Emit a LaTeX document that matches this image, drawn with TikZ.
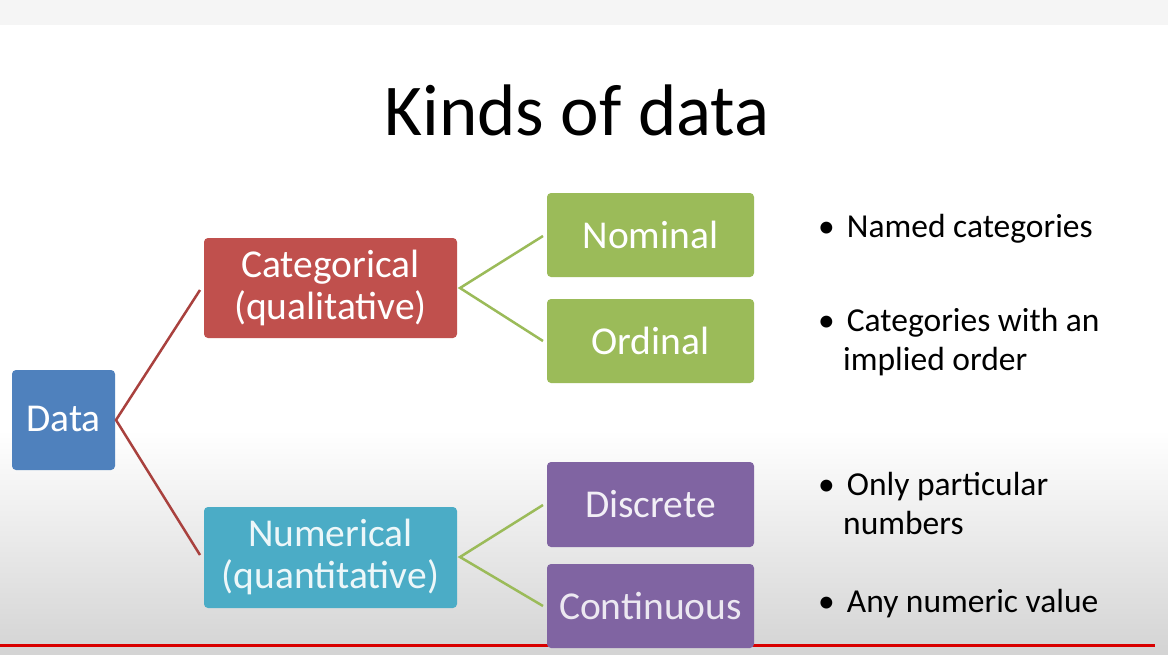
\documentclass[tikz,border=0pt]{standalone}
\usepackage{fontspec}
\setmainfont{Carlito}
\definecolor{cblue}{HTML}{4F81BD}
\definecolor{cred}{HTML}{C0504D}
\definecolor{cteal}{HTML}{4BACC6}
\definecolor{cgreen}{HTML}{9BBB59}
\definecolor{cpurple}{HTML}{8064A2}
\definecolor{cline}{HTML}{A9413E}
\definecolor{gline}{HTML}{9BBB59}
\begin{document}
\begin{tikzpicture}[x=1pt,y=-1pt,
  bx/.style={rounded corners=4pt,text=white,font=\fontsize{39.5}{42}\selectfont,align=center,inner sep=0pt},
  bul/.style={anchor=west,font=\fontsize{33.5}{39}\selectfont,align=left,inner sep=0pt}]
\useasboundingbox (0,0) rectangle (1168,654);
\fill[white] (0,0) rectangle (1168,654);
\fill[gray!8] (0,0) rectangle (1168,25);
\shade[top color=white,bottom color=black!17] (0,430) rectangle (1168,654);
\draw[red!85!black,line width=3pt] (0,645) -- (1155,645);
\node[font=\fontsize{73}{73}\selectfont] (title) at (577,110) {Kinds of data};
\fill[cblue,rounded corners=4pt] (12,370) rectangle (115,470);
\node[bx] (data) at (63.5,419) {Data};
\coordinate (dataR) at (116,420);
\fill[cred,rounded corners=4pt] (204,238) rectangle (457,338);
\node[bx] (cat) at (330.5,288) {Categorical\\(qualitative)};
\coordinate (catL) at (200,290); \coordinate (catR) at (460,288);
\fill[cteal,rounded corners=4pt] (204,507) rectangle (457,608);
\node[bx,text=white!90!cteal] (num) at (330.5,557) {Numerical\\(quantitative)};
\coordinate (numL) at (200,555); \coordinate (numR) at (460,557);
\fill[cgreen,rounded corners=4pt] (547,193) rectangle (754,277);
\node[bx] (nom) at (650.5,235) {Nominal};
\fill[cgreen,rounded corners=4pt] (547,299) rectangle (754,383);
\node[bx] (ord) at (650.5,341) {Ordinal};
\fill[cpurple,rounded corners=4pt] (547,462) rectangle (754,547);
\node[bx,text=white!90!cpurple] (dis) at (650.5,504) {Discrete};
\fill[cpurple,rounded corners=4pt] (547,564) rectangle (754,648);
\node[bx,text=white!85!cpurple] (con) at (650.5,606) {Continuous};
\coordinate (nomL) at (543,236); \coordinate (ordL) at (543,341);
\coordinate (disL) at (543,505); \coordinate (conL) at (543,606);
\draw[cline,line width=2.5pt] (catL) -- (dataR) -- (numL);
\draw[gline,line width=2.5pt] (nomL) -- (catR) -- (ordL);
\draw[gline,line width=2.5pt] (disL) -- (numR) -- (conL);
\node[bul] (b1) at (818,229) {\textbullet\hspace{12pt}Named categories};
\node[bul,anchor=north west] (b2) at (818,308) {\textbullet\hspace{12pt}Categories with an\\\hspace{25pt}implied order};
\node[bul,anchor=north west] (b3) at (818,472) {\textbullet\hspace{12pt}Only particular\\\hspace{25pt}numbers};
\node[bul] (b4) at (818,604) {\textbullet\hspace{12pt}Any numeric value};
\end{tikzpicture}
\end{document}
